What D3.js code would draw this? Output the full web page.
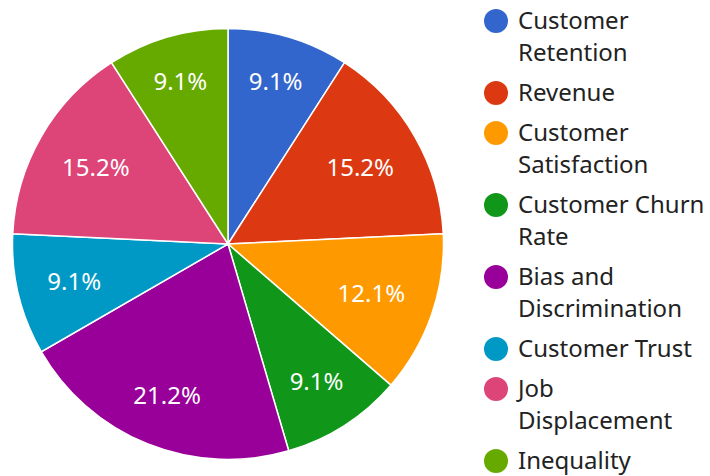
<!DOCTYPE html>
<html>
<head>
<meta charset="utf-8">
<script src="https://cdn.jsdelivr.net/npm/d3@7"></script>
<style>
  body { margin: 0; background: #fff; }
  text { font-family: "Noto Sans", sans-serif; }
</style>
</head>
<body>
<div id="chart"></div>
<script>
// slice data (counts, shown as percent of total)
const categories = ["Customer Retention", "Revenue", "Customer Satisfaction", "Customer Churn Rate",
                    "Bias and Discrimination", "Customer Trust", "Job Displacement", "Inequality"];
const counts = [3, 5, 4, 3, 7, 3, 5, 3];
const legendLines = [["Customer", "Retention"], ["Revenue"], ["Customer", "Satisfaction"],
                     ["Customer Churn", "Rate"], ["Bias and", "Discrimination"], ["Customer Trust"],
                     ["Job", "Displacement"], ["Inequality"]];
const colors = ["#3366cc", "#dc3912", "#ff9900", "#109618", "#990099", "#0099c6", "#dd4477", "#66aa00"];

function main(){
  const width = 710, height = 476;
  const cx = 228, cy = 244, radius = 215.5;

  const svg = d3.select("#chart")
      .append("svg")
      .attr("width", width)
      .attr("height", height);

  const total = d3.sum(counts);
  const data = categories.map((c, i) => ({name: c, value: counts[i], lines: legendLines[i]}));

  const pie = d3.pie().value(d => d.value).sort(null);
  const arc = d3.arc().innerRadius(0).outerRadius(radius);
  const color = d3.scaleOrdinal().domain(categories).range(colors);

  const g = svg.append("g")
      .attr("transform", `translate(${cx}, ${cy})`);

  const arcs = pie(data);

  g.selectAll("path")
    .data(arcs)
    .join("path")
    .attr("d", arc)
    .attr("fill", d => color(d.data.name))
    .attr("stroke", "#fff")
    .attr("stroke-width", 1.5);

  // labels: push text out until its far corner touches a fixed circle
  const fmt = d => (d.value / total * 100).toFixed(1) + "%";
  const labelR = radius * 0.865;
  const labels = g.selectAll("text.pct")
    .data(arcs)
    .join("text")
    .attr("class", "pct")
    .attr("text-anchor", "middle")
    .attr("dy", "0.35em")
    .attr("font-size", 24)
    .attr("fill", "#fff")
    .text(d => fmt(d.data));

  labels.each(function(d){
    const w = this.getComputedTextLength();
    const h = 17;
    const a = (d.startAngle + d.endAngle) / 2;
    const s = Math.abs(Math.sin(a)), c = Math.abs(Math.cos(a));
    const b = w * s + h * c;
    const k = (w * w + h * h) / 4 - labelR * labelR;
    const dist = (-b + Math.sqrt(b * b - 4 * k)) / 2;
    d3.select(this)
      .attr("x", dist * Math.sin(a))
      .attr("y", -dist * Math.cos(a));
  });

  // legend
  const lineH = 32, gap = 8;
  let y = 21;
  const legend = svg.append("g");
  data.forEach(d => {
    const item = legend.append("g").attr("transform", `translate(0, ${y})`);
    item.append("circle")
      .attr("cx", 496)
      .attr("cy", 0)
      .attr("r", 12)
      .attr("fill", color(d.name));
    item.append("text")
      .attr("x", 518)
      .attr("font-size", 24)
      .attr("fill", "#222")
      .selectAll("tspan")
      .data(d.lines)
      .join("tspan")
      .attr("x", 518)
      .attr("y", (l, i) => i * lineH)
      .attr("dy", "0.35em")
      .text(l => l);
    y += d.lines.length * lineH + gap;
  });
}

main();
</script>
</body>
</html>
